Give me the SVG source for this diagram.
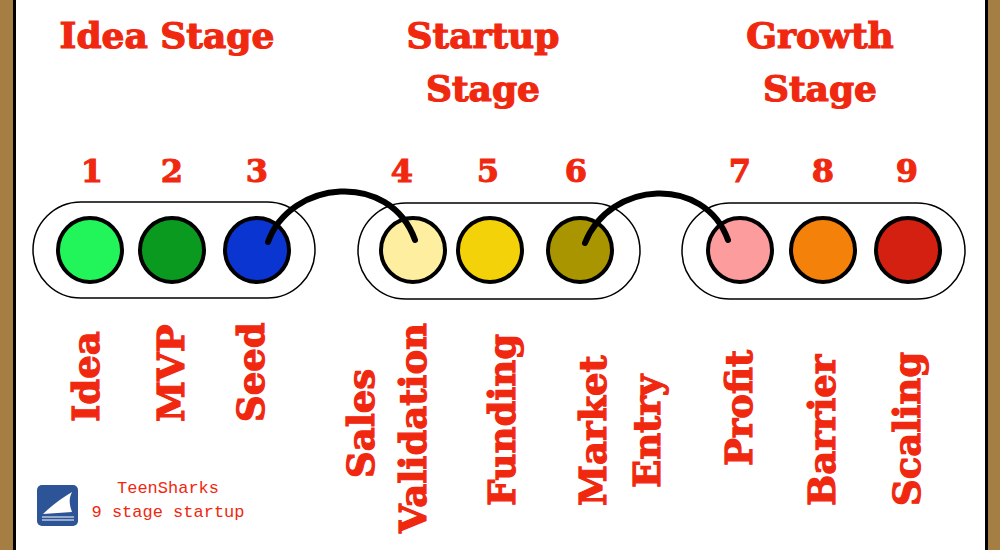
<svg xmlns="http://www.w3.org/2000/svg" width="1000" height="550" viewBox="0 0 1000 550">
<style>
.h{font-family:"DejaVu Serif",serif;font-weight:bold;font-size:36px;fill:#f0280f;stroke:#f0280f;stroke-width:1.2;text-anchor:middle}
.n{font-family:"DejaVu Serif",serif;font-weight:bold;font-size:32px;fill:#f0280f;stroke:#f0280f;stroke-width:1;text-anchor:middle}
.v{font-family:"DejaVu Serif",serif;font-weight:bold;font-size:37px;fill:#f0280f;stroke:#f0280f;stroke-width:1.2}
.grp{fill:none;stroke:#000;stroke-width:1.5}
.c{stroke:#000;stroke-width:4}
.m{font-family:"Liberation Mono",monospace;font-size:17px;fill:#f0280f;text-anchor:middle}
</style>
<rect width="1000" height="550" fill="#fff"/>
<rect x="0" y="0" width="13" height="550" fill="#a57e44"/>
<rect x="13" y="0" width="3" height="550" fill="#000"/>
<rect x="987" y="0" width="13" height="550" fill="#a57e44"/>
<rect x="985" y="0" width="3" height="550" fill="#000"/>
<text class="h" x="167" y="48">Idea Stage</text>
<text class="h" x="483" y="48">Startup</text>
<text class="h" x="483" y="101">Stage</text>
<text class="h" x="820" y="48">Growth</text>
<text class="h" x="820" y="101">Stage</text>
<g id="groups">
<rect class="grp" x="33" y="202" width="282" height="96" rx="48"/>
<rect class="grp" x="358" y="203" width="282" height="96" rx="48"/>
<rect class="grp" x="682" y="203" width="283" height="96" rx="48"/>
</g>
<g id="n1"><text class="n" x="92" y="182">1</text><circle class="c" cx="90" cy="250" r="32" fill="#22f55a"/><text class="v" transform="translate(99,422) rotate(-90)">Idea</text></g>
<g id="n2"><text class="n" x="172" y="182">2</text><circle class="c" cx="172" cy="250" r="32" fill="#0a9a20"/><text class="v" transform="translate(184,422) rotate(-90)">MVP</text></g>
<g id="n3"><text class="n" x="257" y="182">3</text><circle class="c" cx="257" cy="250" r="32" fill="#0a35d0"/><text class="v" transform="translate(264,422) rotate(-90)">Seed</text></g>
<g id="n4"><text class="n" x="402" y="182">4</text><circle class="c" cx="413" cy="250" r="32" fill="#fdeea0"/><text class="v" transform="translate(374,478) rotate(-90)">Sales</text><text class="v" transform="translate(426,533) rotate(-90)">Validation</text></g>
<g id="n5"><text class="n" x="488" y="182">5</text><circle class="c" cx="490" cy="250" r="32" fill="#f3d20a"/><text class="v" transform="translate(515,506) rotate(-90)">Funding</text></g>
<g id="n6"><text class="n" x="576" y="182">6</text><circle class="c" cx="580" cy="250" r="32" fill="#a89500"/><text class="v" transform="translate(606,506) rotate(-90)">Market</text><text class="v" transform="translate(660,488) rotate(-90)">Entry</text></g>
<g id="n7"><text class="n" x="740" y="182">7</text><circle class="c" cx="740" cy="250" r="32" fill="#fc9c9c"/><text class="v" transform="translate(752,466) rotate(-90)">Profit</text></g>
<g id="n8"><text class="n" x="823" y="182">8</text><circle class="c" cx="823" cy="250" r="32" fill="#f4820a"/><text class="v" transform="translate(835,506) rotate(-90)">Barrier</text></g>
<g id="n9"><text class="n" x="907" y="182">9</text><circle class="c" cx="908" cy="250" r="32" fill="#d42010"/><text class="v" transform="translate(920,506) rotate(-90)">Scaling</text></g>
<g id="connectors" fill="none" stroke="#000" stroke-width="6" stroke-linecap="round">
<path d="M268 242 C290 180 390 170 415 240"/>
<path d="M585 243 C610 180 705 175 728 240"/>
</g>
<g id="logo">
<rect x="37" y="485" width="41" height="41" rx="5" fill="#2d5497"/>
<path d="M43 514 C52 505 62 498 72 492 C68 500 70 506 72 512 Z" fill="#fff"/>
<path d="M42 517 H74 M42 520 H74" stroke="#fff" stroke-width="1"/>
</g>
<text class="m" x="168" y="493">TeenSharks</text>
<text class="m" x="168" y="517">9 stage startup</text>
</svg>
